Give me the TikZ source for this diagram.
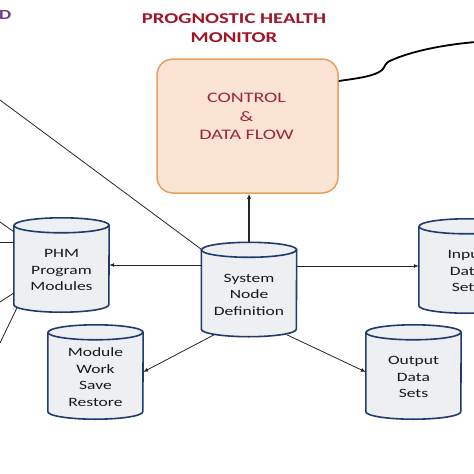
\documentclass[tikz,border=0pt]{standalone}
\usepackage{fontspec}
\setmainfont[FakeStretch=1.38]{Carlito}
\usetikzlibrary{arrows.meta,backgrounds}
\definecolor{titlered}{HTML}{A01526}
\definecolor{ctrltext}{HTML}{9E2636}
\definecolor{ctrlfill}{HTML}{FCE4D4}
\definecolor{ctrldraw}{HTML}{E8A060}
\definecolor{cylfill}{HTML}{EEEFF2}
\definecolor{cyldraw}{HTML}{1F3A6E}
\definecolor{purp}{HTML}{6B3A8C}
\begin{document}
\begin{tikzpicture}[x=1pt,y=-1pt,
  cyl/.style={rectangle,draw=none,minimum width=95pt,minimum height=94pt,inner sep=0pt},
  cyltext/.style={align=center,font=\fontsize{12.7}{16.5}\selectfont,text=black!90,yshift=-5pt},
  cylline/.style={draw=cyldraw,line width=1.6pt,fill=cylfill},
  cylrim/.style={draw=cyldraw,line width=1.6pt},
  arr/.style={-{Latex[length=5pt,width=4pt]},line width=0.8pt,draw=black!85},
  thin/.style={line width=0.8pt,draw=black!85},
  ctrlbox/.style={rectangle,rounded corners=16pt,draw=ctrldraw,line width=1.5pt,fill=ctrlfill,minimum width=181pt,minimum height=134pt,inner sep=0pt}
]
\useasboundingbox (0,0) rectangle (474,474);

% title
\node[align=center,text=titlered,font=\fontsize{15}{19}\selectfont\bfseries] (title) at (234,28) {PROGNOSTIC HEALTH\\MONITOR};
\node[anchor=west,inner sep=0pt,text=purp,font=\fontsize{14}{19}\selectfont\bfseries] (dtext) at (-1,15) {D};

% control box
\node[ctrlbox] (ctrl) at (247.5,126) {};
\node[align=center,text=ctrltext,font=\fontsize{14.5}{18.5}\selectfont] (ctrltxt) at (246.5,116.5) {CONTROL\\\&\\DATA FLOW};

% cylinders
\node[cyl,label={[cyltext]center:{System\\Node\\Definition}}] (snd) at (249,289.5) {};
\node[cyl,label={[cyltext]center:{PHM\\Program\\Modules}}] (phm) at (61.5,265) {};
\node[cyl,label={[cyltext]center:{Input\\Data\\Sets}}] (inp) at (466.5,266) {};
\node[cyl,label={[cyltext]center:{Module\\Work\\Save\\Restore}}] (mwsr) at (95.5,372) {};
\node[cyl,label={[cyltext]center:{Output\\Data\\Sets}}] (out) at (413.5,372) {};

\begin{pgfonlayer}{background}
\foreach \n in {phm,snd,inp,mwsr,out}{
  \draw[cylline] ([yshift=-7.5pt]\n.north west) -- ([yshift=7.5pt]\n.south west)
    arc[start angle=180,end angle=360,x radius=47.5pt,y radius=7.5pt]
    -- ([yshift=-7.5pt]\n.north east)
    arc[start angle=0,end angle=180,x radius=47.5pt,y radius=7.5pt] -- cycle;
  \draw[cylrim] ([yshift=-7.5pt]\n.north west)
    arc[start angle=180,end angle=360,x radius=47.5pt,y radius=7.5pt];
}
\end{pgfonlayer}

% connectors
\draw[arr,line width=1.3pt] (snd.north) -- (snd.north |- ctrl.south);
\draw[arr] (snd.west |- phm.east) -- (phm.east);
\draw[arr] (snd.east |- inp.west) -- (inp.west);
\draw[arr] ([xshift=13pt,yshift=2pt]snd.south west) -- (mwsr.east);
\draw[arr] ([xshift=-10pt,yshift=2pt]snd.south east) -- (out.west);

% diagonal from upper left
\coordinate (d0) at (0,100);
\draw[thin] (d0) -- ([yshift=-7pt]snd.north west);

% lines entering PHM from the left
\coordinate (l1) at (0,222);
\coordinate (l2) at (0,242);
\coordinate (l3) at (0,302);
\coordinate (l4) at (0,343);
\draw[thin] (l1) -- ([yshift=-14pt]phm.north west);
\draw[thin] (l2) -- ([yshift=23pt]phm.west);
\draw[thin] (l3) -- ([yshift=-28pt]phm.west);
\draw[thin] (l4) -- ([xshift=3pt,yshift=4pt]phm.south west);

% wavy line to the right
\coordinate (w0) at ([yshift=45pt]ctrl.east);
\coordinate (w1) at (476,42);
\draw[line width=1.8pt,black] (w0) .. controls (360,78) and (375,76) .. (382,70)
  .. controls (386,66) and (384,63) .. (392,60)
  .. controls (410,52) and (440,45) .. (w1);
\end{tikzpicture}
\end{document}
